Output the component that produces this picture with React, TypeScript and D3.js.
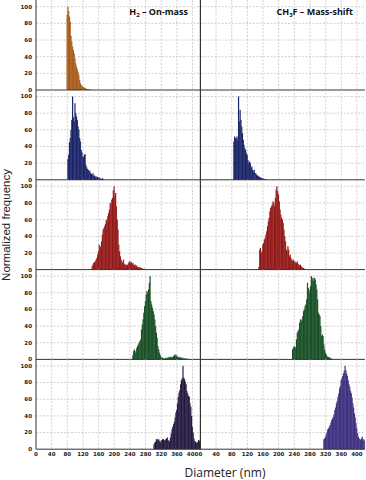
import React from "react";
import * as d3 from "d3";

const BIN_WIDTH = 2;
const xTicks = [0, 40, 80, 120, 160, 200, 240, 280, 320, 360, 400];
const yTicks = [0, 20, 40, 60, 80, 100];

// H2 – On-mass (left column), start diameter (nm) + normalized frequencies per 2 nm bin
const h2Row1Start = 78;
const h2Row1 = [90, 100, 95, 88, 82, 65, 58, 52, 48, 44, 38, 32, 28, 25, 22, 18, 12, 8, 6, 5, 4, 3, 3, 2, 2, 1, 1, 1, 0.5, 0.5, 0.5];
const h2Row2Start = 80;
const h2Row2 = [25, 30, 45, 50, 60, 72, 100, 75, 70, 92, 80, 76, 72, 64, 60, 50, 46, 36, 33, 28, 27, 30, 31, 18, 15, 13, 12, 10, 11, 8, 7, 6, 8, 5, 5, 4, 3, 4, 3, 2, 3, 2, 1, 1, 2, 1, 1];
const h2Row3Start = 142;
const h2Row3 = [4, 6, 8, 9, 10, 12, 14, 18, 22, 30, 26, 28, 34, 42, 48, 50, 52, 55, 60, 58, 64, 68, 72, 80, 78, 84, 86, 95, 100, 88, 92, 76, 60, 48, 30, 22, 16, 12, 10, 8, 12, 7, 6, 5, 6, 5, 7, 9, 10, 8, 9, 7, 8, 6, 5, 6, 4, 5, 3, 3, 2, 3, 2, 2, 1, 1, 1, 1, 0.5, 0.5];
const h2Row4Start = 246;
const h2Row4 = [5, 10, 12, 8, 10, 14, 16, 18, 20, 22, 24, 36, 42, 48, 56, 64, 70, 78, 82, 80, 84, 92, 100, 70, 66, 62, 58, 54, 48, 40, 32, 26, 16, 12, 8, 5, 3, 2, 2, 1, 1, 1, 2, 1, 2, 2, 3, 2, 3, 3, 2, 3, 4, 5, 6, 4, 5, 3, 3, 2, 3, 2, 2, 1, 2, 1, 1, 1, 1, 1, 0.5, 0.5, 0.5];
const h2Row5Start = 300;
const h2Row5 = [6, 8, 9, 12, 12, 11, 12, 10, 8, 10, 11, 12, 12, 11, 10, 12, 13, 14, 11, 9, 10, 14, 19, 24, 27, 30, 33, 38, 44, 47, 55, 63, 68, 71, 78, 83, 85, 100, 86, 84, 81, 78, 70, 67, 64, 63, 55, 51, 40, 27, 20, 13, 10, 9, 8, 7, 9, 11, 10, 8];

// CH3F – Mass-shift (right column)
const ch3fRow2Start = 84;
const ch3fRow2 = [46, 52, 50, 50, 52, 48, 100, 70, 84, 72, 64, 56, 48, 42, 38, 36, 32, 30, 24, 20, 22, 20, 14, 16, 12, 10, 12, 8, 8, 6, 5, 5, 4, 3, 3, 2, 2, 2, 1, 1, 1, 0.5];
const ch3fRow3Start = 148;
const ch3fRow3 = [3, 24, 26, 20, 22, 30, 32, 36, 38, 42, 46, 52, 58, 62, 70, 74, 76, 78, 82, 80, 76, 86, 96, 100, 94, 90, 82, 72, 66, 62, 60, 56, 48, 40, 34, 24, 22, 28, 24, 16, 18, 14, 12, 10, 12, 9, 10, 8, 8, 10, 7, 6, 5, 6, 4, 3, 2, 2, 1, 0.5];
const ch3fRow4Start = 234;
const ch3fRow4 = [12, 14, 16, 15, 14, 24, 32, 34, 36, 44, 48, 46, 48, 52, 58, 60, 64, 66, 72, 92, 86, 84, 80, 88, 100, 96, 98, 94, 98, 96, 90, 84, 72, 56, 54, 52, 40, 28, 30, 28, 18, 12, 8, 6, 4, 3, 3, 2, 2, 1, 1];
const ch3fRow5Start = 314;
const ch3fRow5 = [12, 13, 15, 18, 21, 24, 25, 27, 29, 32, 35, 37, 39, 42, 47, 50, 55, 58, 63, 67, 73, 76, 83, 85, 88, 91, 94, 100, 95, 91, 88, 83, 78, 75, 70, 67, 62, 55, 50, 43, 38, 31, 25, 19, 15, 13, 12, 11, 13, 15, 11, 12, 10];

const rowFills = ["#a65d1c", "#1c2468", "#931818", "#184f26", "#261a40"];
const right5Fill = "#3f3080";
const rowEdges = ["#c99766", "#7f86ad", "#c78a8a", "#7b9c82", "#8b85a3"];

const W = 366;
const H = 480;
const LEFT0 = 36;
const MID = 200.4;
const RIGHT = 364.8;
const ROW0 = 90;
const ROW_STEP = 89.8;
const UNIT100 = 83.3;

type Series = { start: number; values: number[] } | null;

const leftSeries: Series[] = [
  { start: h2Row1Start, values: h2Row1 },
  { start: h2Row2Start, values: h2Row2 },
  { start: h2Row3Start, values: h2Row3 },
  { start: h2Row4Start, values: h2Row4 },
  { start: h2Row5Start, values: h2Row5 },
];
const rightSeries: Series[] = [
  null,
  { start: ch3fRow2Start, values: ch3fRow2 },
  { start: ch3fRow3Start, values: ch3fRow3 },
  { start: ch3fRow4Start, values: ch3fRow4 },
  { start: ch3fRow5Start, values: ch3fRow5 },
];

const pxPerNm = (MID - LEFT0) / 420;
const xLeft = d3.scaleLinear().domain([0, 420]).range([LEFT0, MID]);
const xRight = d3.scaleLinear().domain([0, 420]).range([MID, MID + 420 * pxPerNm]);

function Bars({ s, x, y, base, fill, edge }: any) {
  if (!s) return null;
  return (
    <g>
      {s.values.map((v: number, j: number) => {
        const d0 = s.start + j * BIN_WIDTH;
        const x0 = x(d0);
        const x1 = x(d0 + BIN_WIDTH);
        const overlap = j < s.values.length - 1 ? 0.4 : 0;
        return (
          <g key={j}>
            <rect x={x0} width={x1 - x0 + overlap} y={y(v)} height={base - y(v)} fill={fill} />
            {j % 3 === 1 ? (
              <line x1={x1} x2={x1} y1={y(v)} y2={base} stroke={edge} strokeWidth={0.3} strokeOpacity={0.6} />
            ) : null}
          </g>
        );
      })}
    </g>
  );
}

export default function App() {
  const rows = [0, 1, 2, 3, 4];
  const gridColor = "#c4c4c4";
  const axisColor = "#333";
  const bottomBase = ROW0 + ROW_STEP * 4;
  return (
    <svg
      width={W}
      height={H}
      style={{ position: "absolute", left: 0, top: 0, background: "#fff" }}
      fontFamily="'DejaVu Sans', sans-serif"
    >
      <rect x={0} y={0} width={W} height={H} fill="#fff" />
      {rows.map((i) => {
        const base = ROW0 + ROW_STEP * i;
        const top = base - 90;
        const y = d3.scaleLinear().domain([0, 100]).range([base, base - UNIT100]);
        return (
          <g key={i}>
            {yTicks.filter((t) => t > 0).map((t) => (
              <line key={"h" + t} x1={LEFT0} x2={RIGHT} y1={y(t)} y2={y(t)} stroke={gridColor} strokeWidth={0.8} strokeDasharray="2,1.5" />
            ))}
            {xTicks.filter((t) => t > 0).map((t) => (
              <g key={"v" + t}>
                <line x1={xLeft(t)} x2={xLeft(t)} y1={Math.max(top, 0)} y2={base} stroke={gridColor} strokeWidth={0.8} strokeDasharray="2,1.5" />
                <line x1={xRight(t)} x2={xRight(t)} y1={Math.max(top, 0)} y2={base} stroke={gridColor} strokeWidth={0.8} strokeDasharray="2,1.5" />
              </g>
            ))}
            <Bars s={leftSeries[i]} x={xLeft} y={y} base={base} fill={rowFills[i]} edge={rowEdges[i]} />
            <Bars s={rightSeries[i]} x={xRight} y={y} base={base} fill={i === 4 ? right5Fill : rowFills[i]} edge={rowEdges[i]} />
            <line x1={LEFT0} x2={RIGHT} y1={base} y2={base} stroke={axisColor} strokeWidth={1} />
            {yTicks.map((t) => (
              <text key={"yl" + t} x={32} y={y(t)} dy="0.35em" textAnchor="end" fontSize={5.5} fontWeight="bold" fill="#222">
                {t}
              </text>
            ))}
          </g>
        );
      })}
      <line x1={LEFT0} x2={LEFT0} y1={0} y2={bottomBase} stroke={axisColor} strokeWidth={1} />
      <line x1={MID} x2={MID} y1={0} y2={bottomBase} stroke={axisColor} strokeWidth={1.2} />
      {xTicks.map((t) => (
        <g key={"xt" + t}>
          <text x={xLeft(t)} y={bottomBase + 7} textAnchor="middle" fontSize={5.5} fontWeight="bold" fill="#222">{t}</text>
          <text x={xRight(t)} y={bottomBase + 7} textAnchor="middle" fontSize={5.5} fontWeight="bold" fill="#222">{t}</text>
        </g>
      ))}
      <text x={188} y={14.5} textAnchor="end" fontSize={9} fontWeight="bold" fontFamily="'Open Sans', sans-serif" fill="#111">
        H<tspan dy="2" fontSize={6}>2</tspan><tspan dy="-2"> – On-mass</tspan>
      </text>
      <text x={353} y={14.5} textAnchor="end" fontSize={9} fontWeight="bold" fontFamily="'Open Sans', sans-serif" fill="#111">
        CH<tspan dy="2" fontSize={6}>3</tspan><tspan dy="-2">F – Mass-shift</tspan>
      </text>
      <text
        transform={`translate(9.5, 225) rotate(-90)`}
        textAnchor="middle"
        fontSize={11.5}
        fontFamily="'Liberation Sans', Arial, sans-serif"
        fill="#222"
      >
        Normalized frequency
      </text>
      <text x={225} y={477} textAnchor="middle" fontSize={12} fontFamily="'Open Sans', sans-serif" fill="#222">
        Diameter (nm)
      </text>
    </svg>
  );
}
